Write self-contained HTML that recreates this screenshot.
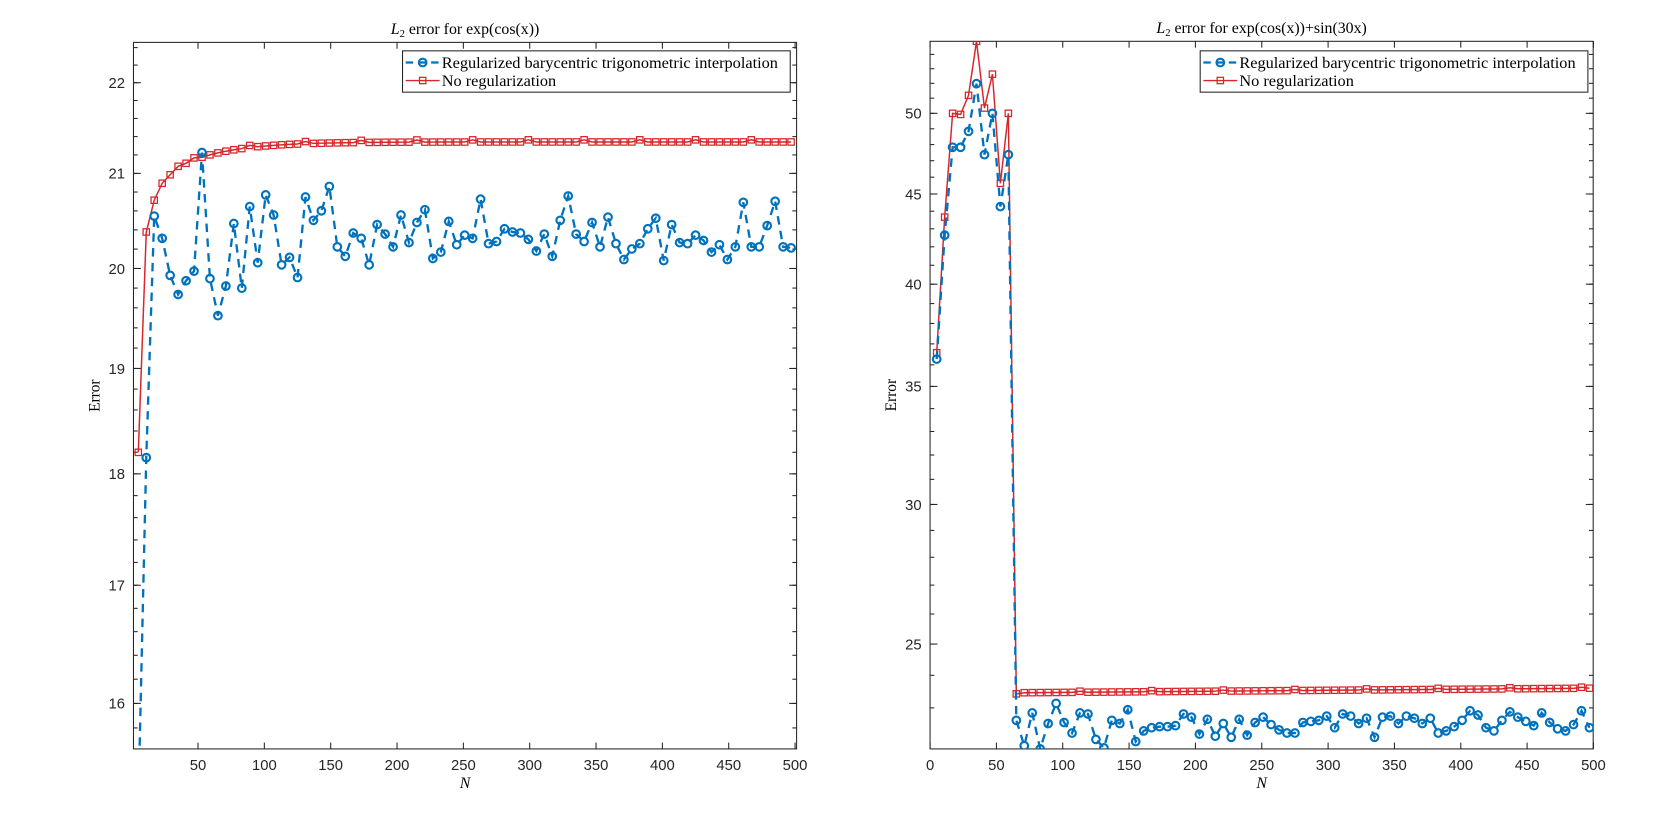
<!DOCTYPE html>
<html><head><meta charset="utf-8"><style>
html,body{margin:0;padding:0;background:#fff;width:1661px;height:833px;overflow:hidden}
svg text{font-family:"Liberation Sans",sans-serif;fill:#262626}
.serif{font-family:"Liberation Serif",serif !important;fill:#000}
</style></head><body>
<svg width="1661" height="833" xmlns="http://www.w3.org/2000/svg"><g id="s" transform="scale(1.0593)"></g></svg>
<script>
const S=document.getElementById('s');let h='';
const BL='#0072BD',RD='#D7262B';
function xs(x0,N){return x0+N*1.2525;}
const lb=[432,204,225,260,278,265,256,144,263,298,270,211,272,195,248,184,203,250,243,262,186,208,199,176,233,242,220,225,250,212,221,233,203,229,210,198,244,238,209,231,222,225,188,230,228,216,219,220,226,237,221,242,208,185,221,228,210,233,205,230,245,235,230,216,206,246,212,229,230,222,227,238,231,245,233,191,233,233,213,190,233,234];
const rb=[339,222,139,139,124,79,146,107,195,146,680,704,673,707,683,664,682,692,673,674,698,706,680,683,670,700,690,687,686,686,685,674,677,693,679,695,683,696,679,694,682,677,684,689,692,692,682,681,680,676,687,674,676,683,678,696,677,676,683,676,678,683,678,692,690,686,680,671,675,687,690,680,672,677,681,685,673,682,688,690,684,671,687];
const rr=[333,205,107,108,90,39,102,70,173,107,655];
function axes(L,R,T,B,x0,yt,ymap,minors,title){
 h+=`<rect x="${L}" y="${T}" width="${R-L}" height="${B-T}" fill="#fff" stroke="#262626" stroke-width="1"/>`;
 for(let n=0;n<=500;n+=50){const x=xs(x0,n);if(x<L-0.5)continue;
  h+=`<line x1="${x}" y1="${B}" x2="${x}" y2="${B-6}" stroke="#262626"/><line x1="${x}" y1="${T}" x2="${x}" y2="${T+6}" stroke="#262626"/>`;
  h+=`<text x="${x}" y="${B+20}" font-size="14" text-anchor="middle">${n}</text>`;}
 for(const v of minors){const y=ymap(v);if(y<T||y>B)continue;
  h+=`<line x1="${L}" y1="${y}" x2="${L+4}" y2="${y}" stroke="#262626"/><line x1="${R}" y1="${y}" x2="${R-4}" y2="${y}" stroke="#262626"/>`;}
 for(const v of yt){const y=ymap(v);
  h+=`<line x1="${L}" y1="${y}" x2="${L+7}" y2="${y}" stroke="#262626"/><line x1="${R}" y1="${y}" x2="${R-7}" y2="${y}" stroke="#262626"/>`;
  h+=`<text x="${L-8}" y="${y+5}" font-size="14" text-anchor="end">${v}</text>`;}
 h+=`<text class="serif" x="${(L+R)/2}" y="${B+37}" font-size="15" text-anchor="middle" font-style="italic">N</text>`;
 h+=`<text class="serif" x="${L-32}" y="${(T+B)/2}" font-size="14.5" text-anchor="middle" transform="rotate(-90 ${L-32} ${(T+B)/2})">Error</text>`;
 h+=`<text class="serif" x="${(L+R)/2}" y="${T-8}" font-size="15" text-anchor="middle"><tspan font-style="italic">L</tspan><tspan font-size="10" dy="3">2</tspan><tspan dy="-3"> error for ${title}</tspan></text>`;
}
function circ(x,y){return `<circle cx="${x}" cy="${y}" r="3.6" fill="none" stroke="${BL}" stroke-width="2"/>`;}
function sq(x,y){return `<rect x="${x-3}" y="${y-3}" width="6" height="6" fill="none" stroke="${RD}" stroke-width="1.2"/>`;}
function legend(x,y){
 h+=`<rect x="${x}" y="${y}" width="366" height="39" fill="#fff" stroke="#262626"/>`;
 h+=`<line x1="${x+3}" y1="${y+11}" x2="${x+35}" y2="${y+11}" stroke="${BL}" stroke-width="2.2" stroke-dasharray="7,5"/>`+circ(x+19,y+11);
 h+=`<line x1="${x+3}" y1="${y+28}" x2="${x+35}" y2="${y+28}" stroke="${RD}" stroke-width="1.3"/>`+sq(x+19,y+28);
 h+=`<text class="serif" x="${x+37}" y="${y+16}" font-size="15.4">Regularized barycentric trigonometric interpolation</text>`;
 h+=`<text class="serif" x="${x+37}" y="${y+33}" font-size="15.4">No regularization</text>`;
}
const m1=v=>5765.6-1840*Math.log(v);
let mn1=[];for(let v=15.6;v<22.4;v+=0.2)mn1.push(+v.toFixed(1));
axes(126,752,40,707,124.3,[16,17,18,19,20,21,22],m1,mn1,'exp(cos(x))');
h+=`<defs><clipPath id="c1"><rect x="126" y="40" width="626" height="667"/></clipPath><clipPath id="c2"><rect x="878" y="39" width="626" height="668"/></clipPath></defs>`;
let red1=[];for(let k=0;k<83;k++){const N=5+6*k,x=xs(124.3,N);let y;
 if(k==0)y=427;else if(k==1)y=219;else if(k==2)y=189;else if(k==3)y=173;else if(k==4)y=165;else if(k==5)y=157;else y=134+20*Math.exp(-(x-176)/45)+ (k%7==0?-2:0);
 red1.push([x,y]);}
let blue1=[[xs(124.3,5),760]];for(let k=0;k<lb.length;k++)blue1.push([xs(124.3,11+6*k),lb[k]]);
h+=`<g clip-path="url(#c1)"><polyline points="${red1.map(p=>p.join(',')).join(' ')}" fill="none" stroke="${RD}" stroke-width="1.4"/>${red1.map(p=>sq(p[0],p[1])).join('')}`;
h+=`<polyline points="${blue1.map(p=>p.join(',')).join(' ')}" fill="none" stroke="${BL}" stroke-width="2.2" stroke-dasharray="8,6"/>${blue1.slice(1).map(p=>circ(p[0],p[1])).join('')}</g>`;
legend(380,48);
const m2=v=>2934.6-722.8*Math.log(v);
let mn2=[];for(let v=23;v<=54;v++)mn2.push(v);
axes(878,1504,39,707,878,[25,30,35,40,45,50],m2,mn2,'exp(cos(x))+sin(30x)');
let red2=[];for(let k=0;k<83;k++){const N=5+6*k,x=xs(878,N);let y=k<rr.length?rr[k]:(654-(k-10)*0.06+(k%9==0?-1:0));red2.push([x,y]);}
let blue2=rb.map((y,k)=>[xs(878,5+6*k),y]);
h+=`<g clip-path="url(#c2)"><polyline points="${red2.map(p=>p.join(',')).join(' ')}" fill="none" stroke="${RD}" stroke-width="1.4"/>${red2.map(p=>sq(p[0],p[1])).join('')}`;
h+=`<polyline points="${blue2.map(p=>p.join(',')).join(' ')}" fill="none" stroke="${BL}" stroke-width="2.2" stroke-dasharray="8,6"/>${blue2.map(p=>circ(p[0],p[1])).join('')}</g>`;
legend(1133,48);
S.innerHTML=h;
</script>
</body></html>
